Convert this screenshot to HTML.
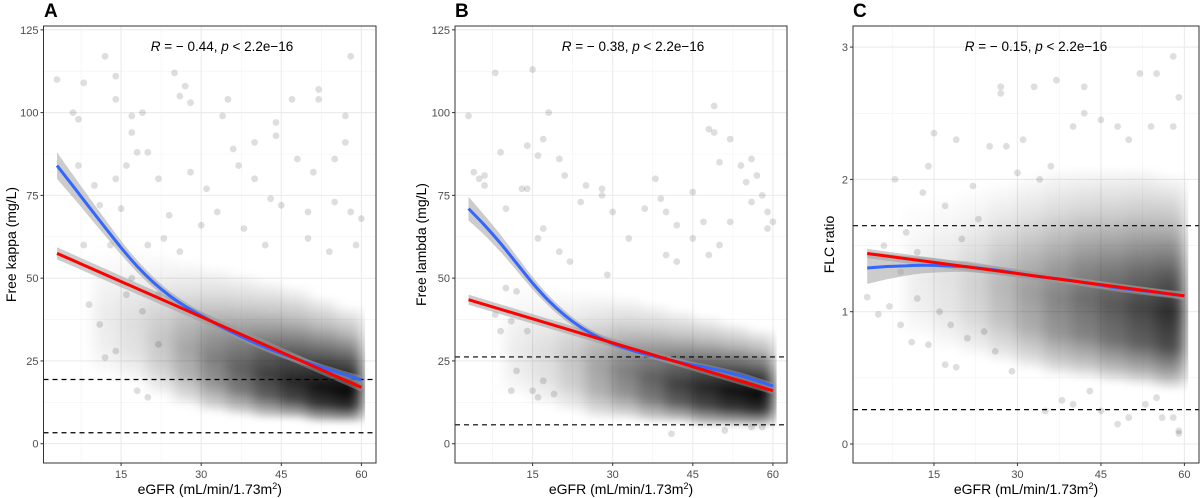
<!DOCTYPE html>
<html><head><meta charset="utf-8"><style>
html,body{margin:0;padding:0;background:#fff;}
svg{display:block;font-family:"Liberation Sans",Arial,sans-serif;}
</style></head><body>
<svg id="chart" width="1200" height="498" viewBox="0 0 1200 498" xmlns="http://www.w3.org/2000/svg">
<defs>
<filter id="blur" x="-20%" y="-20%" width="140%" height="140%"><feGaussianBlur stdDeviation="7 3"/></filter>
</defs>
</svg>
<script>
// ---------- data ----------
const binX = [12.5,17.5,22.5,27.5,32.5,37.5,42.5,47.5,52.5,57.5];
// Panel A (free kappa)
const cloudLoA = [20,18,14,11,9,8,7,7,6,6];
const cloudHiA = [60,60,58,56,54,52,50,48,45,42];
const cloudModeA = [38,36,32,29,26,23,21,19,17,16];
const cloudDensA = [0.08,0.13,0.22,0.35,0.5,0.62,0.75,0.85,0.93,0.97];
const ptsXA = [3,6,7,8,12,14,14,17,19,17,18,16,25,26,27,28,35,34,36,40,44,44,47,52,52,57,58,57,55,7,10,8,11,14,15,20,22,24,28,31,37,40,43,48,51,55,58,60,9,11,14,18,20,12,16,19,22,20,23,26,30,33,45,50,54,59,50,38,42,13,17,22];
const ptsYA = [110,100,98,109,117,111,104,99,100,94,88,84,112,105,108,103,104,99,89,91,93,97,104,107,104,99,117,91,86,84,78,60,72,80,71,88,80,69,82,77,84,80,74,86,82,73,70,68,42,36,28,16,14,26,45,40,30,60,62,58,66,70,72,62,58,60,70,65,60,60,50,45];
const fitX = [3,6,9,12,15,18,21,24,27,30,33,36,39,42,45,48,51,54,57,60];
const loessA = [84,77.8,71.5,65.3,59.2,53.6,48.8,44.8,41.5,38.7,36,33.5,31.2,29.1,27.2,25.5,23.9,22.3,20.8,19.3];
const loessBandA = [4,3.4,2.9,2.5,2.1,1.8,1.6,1.4,1.3,1.2,1.2,1.2,1.2,1.2,1.2,1.1,1,1,1.1,1.3];
const linA = [57.5,17];
const refA = [19.4,3.3];
// Panel B (free lambda)
const cloudLoB = [14,11,9,7,7,6,6,5,5,5];
const cloudHiB = [50,48,47,46,45,43,41,39,37,35];
const cloudModeB = [28,27,25,23,22,20,18,17,16,15];
const cloudDensB = [0.08,0.13,0.22,0.36,0.5,0.62,0.75,0.85,0.93,0.97];
const ptsXB = [3,8,15,18,9,14,16,17,20,4,5,6,6,10,13,14,21,25,24,28,28,30,33,36,38,39,40,42,45,45,49,48,49,50,52,54,55,56,57,56,58,59,60,59,50,48,47,52,20,22,17,16,12,11,10,8,9,12,15,17,16,19,11,14,41,51,56,58,40,42,29];
const ptsYB = [99,112,113,100,88,90,87,92,86,82,80,81,78,71,77,77,81,78,73,75,77,70,62,71,80,74,70,66,76,62,102,95,94,85,92,84,79,86,81,73,75,70,67,65,60,57,67,67,58,55,65,62,46,37,47,39,34,22,16,19,14,15,16,34,3,4,5,5,57,55,51];
const loessB = [71,66,60.5,54.5,48.5,43.2,38.8,35.2,32.4,30.2,28.5,27.1,25.9,24.8,23.8,22.8,21.7,20.5,19,17.4];
const loessBandB = [3.6,3,2.6,2.2,1.9,1.6,1.4,1.2,1.1,1.1,1,1,1,1,1,1,1,1,1,1.1];
const linB = [43.5,16];
const refB = [26.2,5.7];
// Panel C (FLC ratio)
const cloudLoC = [0.8,0.7,0.65,0.6,0.55,0.5,0.48,0.45,0.43,0.4];
const cloudHiC = [1.85,1.9,1.95,2.0,2.05,2.1,2.1,2.1,2.1,2.05];
const cloudModeC = [1.25,1.25,1.22,1.2,1.15,1.1,1.1,1.05,1.03,1.0];
const cloudDensC = [0.07,0.11,0.18,0.28,0.38,0.48,0.57,0.65,0.73,0.82];
const ptsXC = [3,5,7,8,9,11,14,15,19,14,17,19,22,13,17,27,27,33,37,42,52,55,58,59,45,42,48,40,28,31,36,25,50,54,58,59,59,56,58,48,50,45,38,35,29,40,43,53,55,30,34,20,23,10,12,6,9,12,16,18,24,26,21];
const ptsYC = [1.11,0.98,1.04,2.0,0.9,0.77,2.1,2.35,2.3,0.75,0.6,0.58,1.95,1.9,1.8,2.7,2.65,2.7,2.75,2.7,2.8,2.8,2.93,2.62,2.45,2.5,2.4,2.4,2.25,2.3,2.1,2.25,2.3,2.4,2.4,0.1,0.08,0.2,0.2,0.15,0.2,0.25,0.33,0.25,0.55,0.3,0.4,0.3,0.35,2.05,2.0,1.55,1.7,1.6,1.45,1.5,1.3,1.1,1.0,0.9,0.85,0.7,0.8];
const loessC = [1.33,1.34,1.345,1.35,1.35,1.345,1.34,1.325,1.31,1.29,1.27,1.255,1.24,1.22,1.2,1.18,1.165,1.15,1.135,1.12];
const loessBandC = [0.12,0.1,0.08,0.065,0.055,0.045,0.04,0.035,0.03,0.03,0.03,0.03,0.03,0.03,0.03,0.03,0.03,0.03,0.03,0.035];
const linC = [1.44,1.12];
const refC = [1.65,0.26];
const linX = [3,60];
const xTicks = [15,30,45,60];
const xMinor = [7.5,22.5,37.5,52.5];
const yTicksAB = [0,25,50,75,100,125];
const yMinorAB = [12.5,37.5,62.5,87.5,112.5];
const yTicksC = [0,1,2,3];
const yMinorC = [0.5,1.5,2.5];

// ---------- drawing ----------
const NS='http://www.w3.org/2000/svg';
const svg=document.getElementById('chart');
const defs=svg.querySelector('defs');
function mk(tag,attrs,parent){const e=document.createElementNS(NS,tag);for(const k in attrs)e.setAttribute(k,attrs[k]);(parent||svg).appendChild(e);return e;}
function segsOf(p){const s=[];for(let i=0;i<p.length-1;i++){const p0=p[Math.max(0,i-1)],p1=p[i],p2=p[i+1],p3=p[Math.min(p.length-1,i+2)];
  s.push([[p1[0]+(p2[0]-p0[0])/6,p1[1]+(p2[1]-p0[1])/6],[p2[0]-(p3[0]-p1[0])/6,p2[1]-(p3[1]-p1[1])/6],p2]);}return s;}
function smoothPath(pts){let d='M'+pts[0];segsOf(pts).forEach(s=>d+=' C'+s[0]+' '+s[1]+' '+s[2]);return d;}
function bandPath(up,dn){
  let d=smoothPath(up);const segs=segsOf(dn);d+=' L'+dn[dn.length-1];
  for(let i=segs.length-1;i>=0;i--){const start=i===0?dn[0]:segs[i-1][2];d+=' C'+segs[i][1]+' '+segs[i][0]+' '+start;}
  return d+' Z';
}

function panel(cfg){
  const {id,left,right,top,bottom,x0,xs,y0,ys}=cfg;
  const X=v=>x0+v*xs, Y=v=>y0-v*ys;
  const g=mk('g',{});
  
  
  const clipId='clip'+id;
  const cp=mk('clipPath',{id:clipId},g);mk('rect',{x:left,y:top,width:right-left,height:bottom-top},cp);
  const cc=mk('clipPath',{id:'cc'+id},g);mk('rect',{x:X(2),y:top,width:X(60.7)-X(2),height:bottom-top},cc);
  cfg.yMinor.forEach(v=>mk('line',{x1:left,x2:right,y1:Y(v),y2:Y(v),stroke:'#f2f2f2','stroke-width':0.6},g));
  xMinor.forEach(v=>mk('line',{x1:X(v),x2:X(v),y1:top,y2:bottom,stroke:'#f2f2f2','stroke-width':0.6},g));
  cfg.yTicks.forEach(v=>{const l=mk('line',{x1:left,x2:right,y1:Y(v),y2:Y(v),stroke:'#ebebeb','stroke-width':1.1},g);});
  xTicks.forEach(v=>{const l=mk('line',{x1:X(v),x2:X(v),y1:top,y2:bottom,stroke:'#ebebeb','stroke-width':1.1},g);});
  const cg=mk('g',{'clip-path':'url(#cc'+id+')'},g);
  
  
  const bg=mk('g',{filter:'url(#blur)'},cg);
  cfg.binX.forEach((bx,i)=>{
    const lo=cfg.lo[i],hi=cfg.hi[i],mo=cfg.mode[i],dn=cfg.dens[i];
    const yT=Y(hi),yB=Y(lo),yM=Y(mo);
    const f=(yM-yT)/(yB-yT);
    const gid='gr'+id+i;
    const lg=mk('linearGradient',{id:gid,x1:0,y1:0,x2:0,y2:1},defs);
    [[0,0],[f*0.35,dn*0.3],[f*0.75,dn*0.8],[f,dn],[f+(1-f)*0.45,dn*0.85],[f+(1-f)*0.8,dn*0.4],[1,0]].forEach(s=>mk('stop',{offset:s[0],'stop-color':'#000','stop-opacity':s[1]},lg));
    const r=mk('rect',{x:X(bx-2.5),y:yT,width:xs*5+0.5,height:yB-yT,fill:'url(#'+gid+')'},bg);
    
    
  });
  const pg=mk('g',{'clip-path':'url(#'+clipId+')'},g);
  cfg.px.forEach((v,i)=>{const c=mk('circle',{cx:X(v),cy:Y(cfg.py[i]),r:3.4,fill:'#000','fill-opacity':0.13},pg);
    
    });
  cfg.ref.forEach(v=>{const l=mk('line',{x1:left,x2:right,y1:Y(v),y2:Y(v),stroke:'#000','stroke-width':1.2,'stroke-dasharray':'5,4'},g);
    
    });
  const up=fitX.map((v,i)=>[X(v),Y(cfg.loess[i]+cfg.band[i])]);
  const dn=fitX.map((v,i)=>[X(v),Y(cfg.loess[i]-cfg.band[i])]);
  const band=mk('path',{d:bandPath(up,dn),fill:'#999','fill-opacity':0.5},g);
  
  
  const lb=cfg.lin.map((v,i)=>[X(linX[i]),Y(v)]);
  const bw=cfg.linBand*ys;
  const lband=mk('polygon',{points:[[lb[0][0],lb[0][1]-bw*1.4],[lb[1][0],lb[1][1]-bw],[lb[1][0],lb[1][1]+bw],[lb[0][0],lb[0][1]+bw*1.4]].join(' '),fill:'#999','fill-opacity':0.5},g);
  
  
  const lo=mk('path',{d:smoothPath(fitX.map((v,i)=>[X(v),Y(cfg.loess[i])])),fill:'none',stroke:'#3366ff','stroke-width':3},g);
  
  
  const li=mk('line',{x1:lb[0][0],y1:lb[0][1],x2:lb[1][0],y2:lb[1][1],stroke:'#ff0000','stroke-width':3},g);
  
  
  const br=mk('rect',{x:left,y:top,width:right-left,height:bottom-top,fill:'none',stroke:'#333','stroke-width':1},g);
  
  
  xTicks.forEach(v=>{mk('line',{x1:X(v),x2:X(v),y1:bottom,y2:bottom+3,stroke:'#333'},g);
    const t=mk('text',{x:X(v),y:bottom+15,'text-anchor':'middle','font-size':11,fill:'#4d4d4d'},g);t.textContent=v;
    
    });
  cfg.yTicks.forEach((v,i)=>{mk('line',{x1:left-3,x2:left,y1:Y(v),y2:Y(v),stroke:'#333'},g);
    const t=mk('text',{x:left-5,y:Y(v)+4,'text-anchor':'end','font-size':11,fill:'#4d4d4d'},g);t.textContent=cfg.yLabels[i];
    
    });
  const xt=mk('text',{x:(left+right)/2,y:494,'text-anchor':'middle','font-size':14,fill:'#000'},g);
  xt.innerHTML='eGFR (mL/min/1.73m<tspan font-size="9" dy="-5">2</tspan><tspan dy="5">)</tspan>';
  
  
  const yt=mk('text',{x:0,y:0,'text-anchor':'middle','font-size':14,fill:'#000',transform:'translate('+cfg.ytx+','+((top+bottom)/2)+') rotate(-90)'},g);
  yt.textContent=cfg.ytitle;
  
  
  const an=mk('text',{x:cfg.annX,y:51,'text-anchor':'middle','font-size':13.5,fill:'#000'},g);
  an.innerHTML='<tspan font-style="italic">R</tspan> = − '+cfg.r+', <tspan font-style="italic">p</tspan> &lt; 2.2e−16';
  
  
  const pl=mk('text',{x:cfg.letterX,y:17,'font-size':19,'font-weight':'bold',fill:'#000'},g);
  pl.textContent=id;
  
  
}

panel({id:'A',left:43.5,right:376,top:26,bottom:463,x0:41,xs:5.34,y0:443.7,ys:3.311,yTicks:yTicksAB,yLabels:yTicksAB,yMinor:yMinorAB,
  binX:binX,lo:cloudLoA,hi:cloudHiA,mode:cloudModeA,dens:cloudDensA,px:ptsXA,py:ptsYA,ref:refA,loess:loessA,band:loessBandA,lin:linA,linBand:1.3,
  ytx:16,ytitle:'Free kappa (mg/L)',annX:222,r:'0.44',letterX:44});
panel({id:'B',left:455,right:787,top:26,bottom:463,x0:452.5,xs:5.34,y0:443.7,ys:3.311,yTicks:yTicksAB,yLabels:yTicksAB,yMinor:yMinorAB,
  binX:binX,lo:cloudLoB,hi:cloudHiB,mode:cloudModeB,dens:cloudDensB,px:ptsXB,py:ptsYB,ref:refB,loess:loessB,band:loessBandB,lin:linB,linBand:1.1,
  ytx:426,ytitle:'Free lambda (mg/L)',annX:633,r:'0.38',letterX:455});
panel({id:'C',left:853,right:1199,top:26,bottom:463,x0:850.5,xs:5.565,y0:444,ys:132.3,yTicks:yTicksC,yLabels:yTicksC,yMinor:yMinorC,
  binX:binX,lo:cloudLoC,hi:cloudHiC,mode:cloudModeC,dens:cloudDensC,px:ptsXC,py:ptsYC,ref:refC,loess:loessC,band:loessBandC,lin:linC,linBand:0.025,
  ytx:834,ytitle:'FLC ratio',annX:1036,r:'0.15',letterX:853});
</script>
</body></html>
